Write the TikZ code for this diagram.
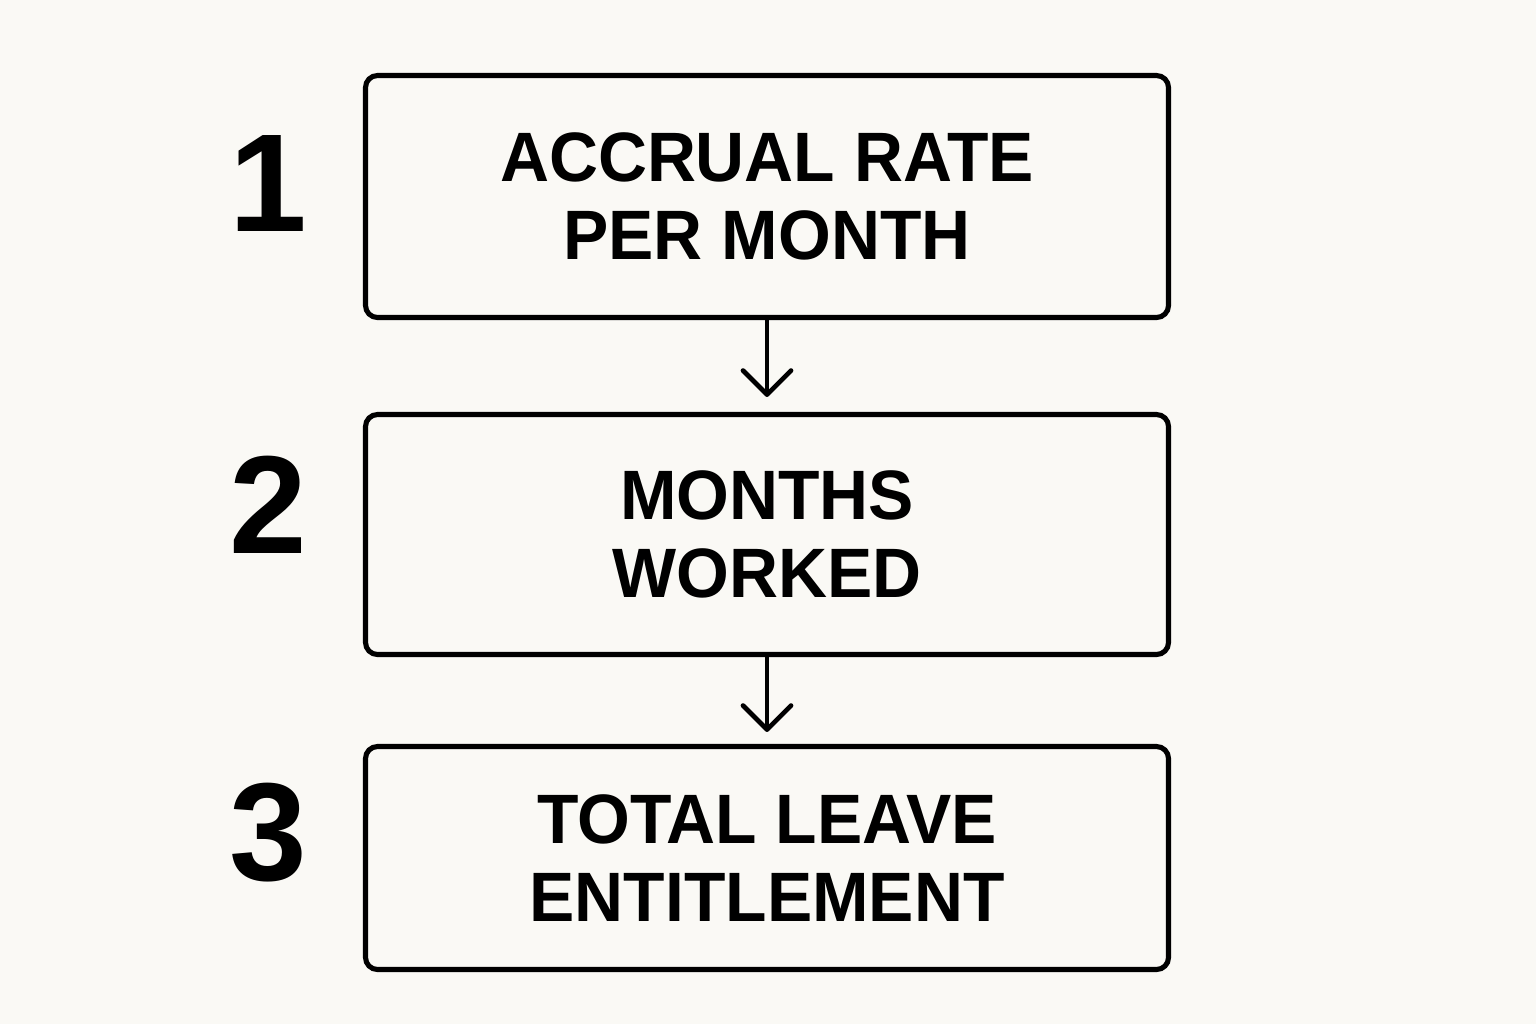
\documentclass[tikz,border=0pt]{standalone}
\usepackage{fontspec}
\setmainfont{Liberation Sans}
\newfontfamily\boxfont{Liberation Sans}[FakeStretch=0.97]
\usetikzlibrary{arrows.meta}
\definecolor{paper}{RGB}{250,249,245}

\tikzset{
	stepbox/.style={draw, line width=1.45pt, rounded corners=0.12cm, minimum width=8.03cm, align=center,
		font=\boxfont\bfseries\fontsize{19.9}{22.2}\selectfont, inner sep=0pt},
	stepnum/.style={font=\bfseries\fontsize{39.7}{40}\selectfont, inner sep=0pt},
	flowarrow/.style={line width=1.35pt, -{Straight Barb[length=2.4mm, width=4.8mm, round]}}
}

\begin{document}
\begin{tikzpicture}
		% Background
		\fill[paper] (0, 0) rectangle (15.36, -10.24);
		\useasboundingbox (0, 0) rectangle (15.36, -10.24);
		
		% Steps
		% Accrual rate
		\node[stepbox, minimum height=2.42cm] (rate) at (7.67, -1.965) {ACCRUAL RATE\\PER MONTH};
		
		% Months worked
		\node[stepbox, minimum height=2.40cm] (months) at (7.67, -5.345) {MONTHS\\WORKED};
		
		% Total leave
		\node[stepbox, minimum height=2.23cm] (total) at (7.67, -8.58) {TOTAL LEAVE\\ENTITLEMENT};
		
		% Step Numbers
		\node[stepnum] (one) at (2.68, -1.83) {1};
		\node[stepnum] (two) at (2.68, -5.05) {2};
		\node[stepnum] (three) at (2.68, -8.33) {3};
		
		% Arrows
		\draw[flowarrow, shorten >=0.15cm] (rate) -- (months);
		\draw[flowarrow, shorten >=0.12cm] (months) -- (total);
	\end{tikzpicture}
\end{document}
